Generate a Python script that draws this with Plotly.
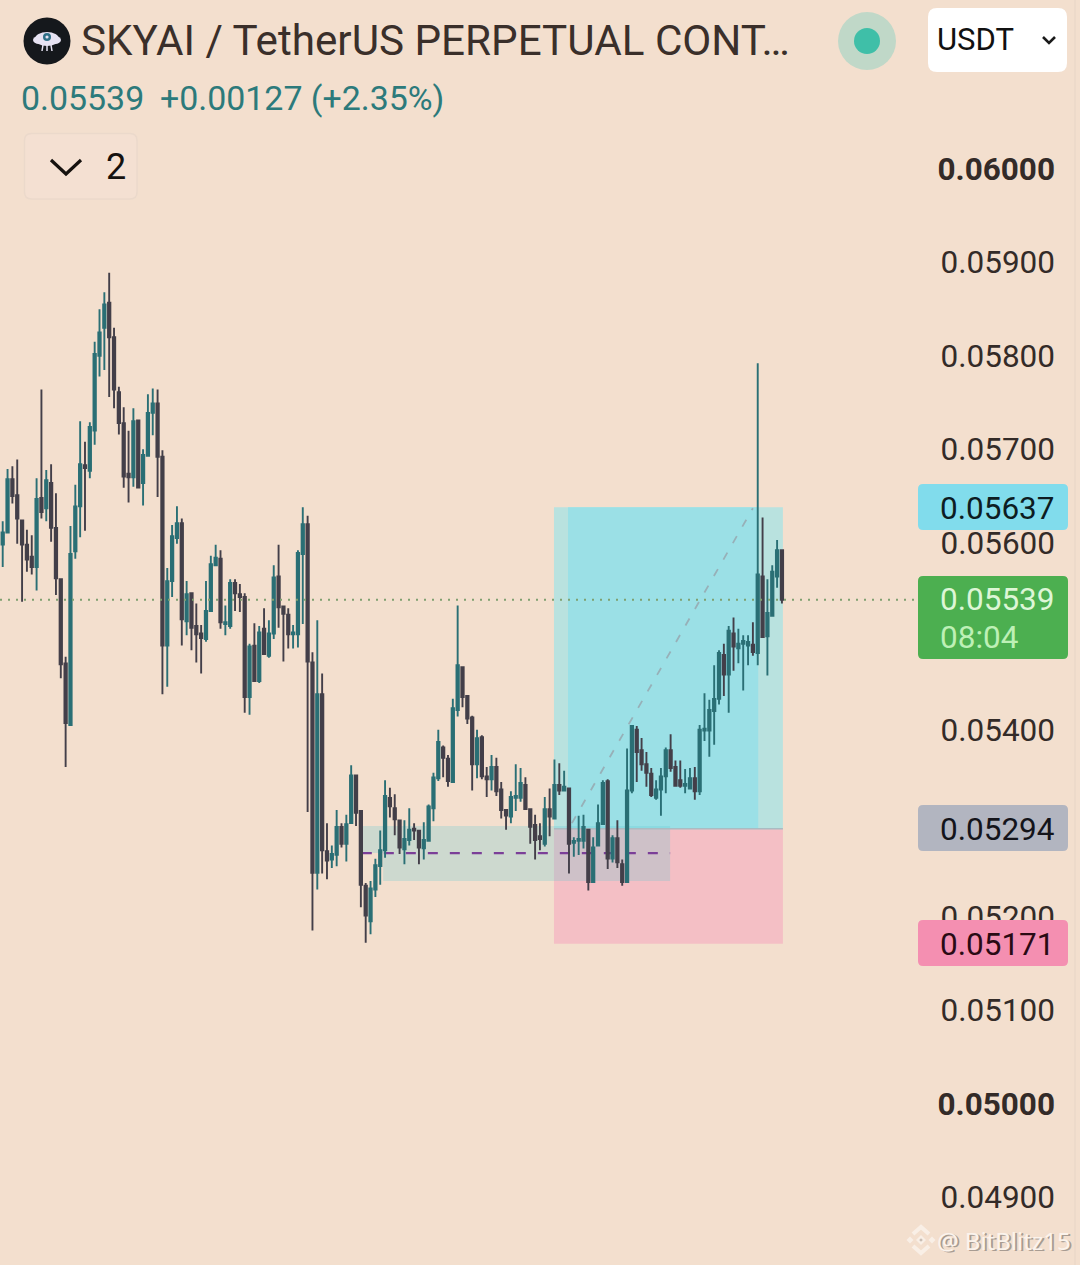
import plotly.graph_objects as go

# prices are kept in 1e-5 USDT
OPEN = [
    5598, 5611, 5668, 5651, 5624, 5598, 5585, 5574, 5648, 5637,
    5664, 5616, 5561, 5471, 5405, 5591, 5639, 5683, 5677, 5720,
    5800, 5830, 5857, 5820, 5761, 5728, 5674, 5670, 5731, 5664,
    5693, 5739, 5749, 5692, 5490, 5559, 5605, 5621, 5516, 5546,
    5511, 5503, 5497, 5527, 5576, 5583, 5513, 5511, 5557, 5545,
    5542, 5435, 5490, 5452, 5508, 5479, 5503, 5564, 5532, 5523,
    5502, 5502, 5588, 5620, 5472, 5247, 5438, 5270, 5261, 5266,
    5296, 5278, 5300, 5351, 5313, 5233, 5195, 5229, 5254, 5271,
    5327, 5316, 5303, 5272, 5282, 5294, 5292, 5273, 5281, 5316,
    5348, 5381, 5369, 5344, 5421, 5467, 5436, 5413, 5363, 5392,
    5350, 5347, 5360, 5336, 5314, 5307, 5327, 5327, 5341, 5315,
    5298, 5286, 5278, 5315, 5305, 5341, 5335, 5337, 5279, 5281,
    5281, 5293, 5237, 5276, 5299, 5345, 5262, 5284, 5256, 5237,
    5335, 5400, 5378, 5363, 5353, 5327, 5336, 5350, 5378, 5360,
    5346, 5340, 5337, 5348, 5334, 5399, 5399, 5420, 5433, 5480,
    5459, 5503, 5487, 5492, 5490, 5491, 5482, 5564, 5500, 5522,
    5564, 5592,
]
HIGH = [
    5623, 5679, 5682, 5689, 5624, 5614, 5608, 5669, 5764, 5678,
    5684, 5653, 5561, 5478, 5618, 5662, 5730, 5708, 5729, 5815,
    5850, 5868, 5889, 5830, 5767, 5745, 5720, 5744, 5732, 5700,
    5759, 5765, 5764, 5699, 5573, 5619, 5639, 5626, 5559, 5547,
    5535, 5512, 5559, 5586, 5598, 5592, 5533, 5561, 5561, 5556,
    5546, 5492, 5514, 5511, 5530, 5517, 5576, 5598, 5533, 5530,
    5512, 5592, 5638, 5629, 5483, 5517, 5460, 5300, 5276, 5314,
    5300, 5309, 5362, 5352, 5314, 5236, 5238, 5262, 5292, 5346,
    5338, 5331, 5303, 5303, 5316, 5300, 5293, 5301, 5320, 5354,
    5400, 5383, 5373, 5433, 5533, 5468, 5437, 5415, 5400, 5394,
    5360, 5373, 5370, 5344, 5314, 5334, 5363, 5359, 5349, 5315,
    5309, 5300, 5328, 5337, 5368, 5364, 5356, 5338, 5285, 5308,
    5309, 5293, 5285, 5320, 5346, 5347, 5287, 5303, 5261, 5380,
    5405, 5404, 5391, 5376, 5359, 5346, 5359, 5381, 5395, 5367,
    5367, 5358, 5359, 5360, 5405, 5439, 5432, 5469, 5485, 5492,
    5511, 5520, 5508, 5501, 5501, 5515, 5792, 5627, 5561, 5576,
    5603, 5593,
]
LOW = [
    5574, 5611, 5642, 5599, 5537, 5569, 5566, 5549, 5626, 5623,
    5601, 5544, 5455, 5360, 5405, 5583, 5606, 5613, 5669, 5705,
    5778, 5785, 5756, 5744, 5716, 5659, 5643, 5660, 5658, 5640,
    5693, 5715, 5649, 5438, 5446, 5542, 5599, 5490, 5501, 5485,
    5472, 5460, 5494, 5526, 5575, 5508, 5501, 5508, 5527, 5526,
    5418, 5416, 5452, 5450, 5480, 5477, 5497, 5509, 5473, 5487,
    5487, 5488, 5513, 5312, 5185, 5229, 5246, 5240, 5252, 5254,
    5274, 5259, 5300, 5297, 5210, 5172, 5181, 5221, 5234, 5263,
    5306, 5287, 5267, 5256, 5276, 5282, 5256, 5261, 5281, 5302,
    5345, 5349, 5339, 5344, 5414, 5424, 5406, 5335, 5348, 5347,
    5328, 5335, 5329, 5305, 5293, 5300, 5313, 5323, 5314, 5278,
    5261, 5271, 5275, 5286, 5304, 5330, 5335, 5246, 5264, 5266,
    5273, 5228, 5236, 5275, 5298, 5251, 5258, 5252, 5233, 5236,
    5332, 5344, 5356, 5339, 5328, 5325, 5308, 5332, 5355, 5340,
    5338, 5332, 5337, 5325, 5330, 5388, 5371, 5384, 5427, 5436,
    5418, 5463, 5471, 5442, 5469, 5479, 5469, 5499, 5458, 5521,
    5552, 5535,
]
CLOSE = [
    5611, 5668, 5650, 5626, 5598, 5582, 5574, 5647, 5633, 5667,
    5616, 5562, 5470, 5407, 5588, 5639, 5684, 5680, 5724, 5802,
    5825, 5855, 5820, 5764, 5728, 5671, 5670, 5730, 5659, 5694,
    5739, 5749, 5692, 5490, 5559, 5607, 5621, 5518, 5545, 5509,
    5502, 5498, 5527, 5577, 5584, 5515, 5515, 5557, 5546, 5542,
    5435, 5489, 5452, 5504, 5481, 5503, 5563, 5531, 5524, 5502,
    5504, 5589, 5620, 5473, 5247, 5438, 5271, 5260, 5267, 5296,
    5278, 5299, 5351, 5311, 5234, 5201, 5230, 5255, 5271, 5329,
    5318, 5304, 5274, 5283, 5293, 5292, 5274, 5282, 5318, 5349,
    5387, 5370, 5345, 5423, 5469, 5435, 5412, 5363, 5391, 5350,
    5347, 5360, 5334, 5314, 5308, 5328, 5329, 5343, 5315, 5296,
    5282, 5283, 5315, 5307, 5341, 5335, 5339, 5278, 5281, 5283,
    5296, 5237, 5274, 5300, 5343, 5262, 5284, 5258, 5237, 5335,
    5404, 5376, 5363, 5354, 5330, 5336, 5350, 5378, 5359, 5340,
    5340, 5342, 5348, 5334, 5400, 5401, 5421, 5433, 5482, 5459,
    5506, 5489, 5492, 5495, 5494, 5483, 5566, 5499, 5525, 5569,
    5592, 5539,
]

TICK_PRICES = [6000, 5900, 5800, 5700, 5600, 5400, 5200, 5100, 5000, 4900]
BOLD_TICKS = [6000, 5000]

LAST_PRICE = 5539
TARGET = 5637
ENTRY = 5294
STOP = 5171
ZONE_TOP = 5297
ZONE_MID = 5268
ZONE_BOTTOM = 5238

W = 1080
H = 1265
BG = "#F3DFCE"
TEAL = "#2A6F75"
DARK = "#433F49"


def scaled(values):
    return [v / 100000 for v in values]


def px(x):
    return x / W


def py(y):
    return 1 - y / H


def rounded(x0, y0, x1, y1, r):
    return (
        f"M{px(x0 + r)},{py(y0)} L{px(x1 - r)},{py(y0)} Q{px(x1)},{py(y0)} {px(x1)},{py(y0 + r)} "
        f"L{px(x1)},{py(y1 - r)} Q{px(x1)},{py(y1)} {px(x1 - r)},{py(y1)} "
        f"L{px(x0 + r)},{py(y1)} Q{px(x0)},{py(y1)} {px(x0)},{py(y1 - r)} "
        f"L{px(x0)},{py(y0 + r)} Q{px(x0)},{py(y0)} {px(x0 + r)},{py(y0)} Z"
    )


def box(x0, y0, x1, y1, fill, r=5, line=None):
    return dict(type="path", path=rounded(x0, y0, x1, y1, r), xref="paper", yref="paper",
                fillcolor=fill, line=dict(color=line or fill, width=1.5 if line else 0), layer="above")


def circle(cx, cy, rx, ry, fill):
    return dict(type="circle", xref="paper", yref="paper", x0=px(cx - rx), x1=px(cx + rx),
                y0=py(cy + ry), y1=py(cy - ry), fillcolor=fill, line=dict(width=0), layer="above")


def poly(points, color, width=None):
    d = "M" + " L".join(f"{px(x)},{py(y)}" for x, y in points)
    if width:
        return dict(type="path", path=d, xref="paper", yref="paper",
                    line=dict(color=color, width=width), layer="above")
    return dict(type="path", path=d + " Z", xref="paper", yref="paper",
                fillcolor=color, line=dict(width=0), layer="above")


def price_rect(i0, i1, p0, p1, fill):
    return dict(type="rect", xref="x", yref="y", x0=i0, x1=i1, y0=p0 / 100000, y1=p1 / 100000,
                fillcolor=fill, line=dict(width=0), layer="below")


def label(x, y, text, size, color, anchor="left", family="Roboto"):
    return dict(xref="paper", yref="paper", x=px(x), y=py(y), text=text, showarrow=False,
                xanchor=anchor, yanchor="middle", font=dict(family=family, size=size, color=color))


def diamond(cx, cy, r, color):
    return poly([(cx, cy - r), (cx + r, cy), (cx, cy + r), (cx - r, cy)], color)


fig = go.Figure(go.Candlestick(
    x=list(range(len(OPEN))),
    open=scaled(OPEN),
    high=scaled(HIGH),
    low=scaled(LOW),
    close=scaled(CLOSE),
    increasing=dict(line=dict(color=TEAL, width=1.9), fillcolor=TEAL),
    decreasing=dict(line=dict(color=DARK, width=1.9), fillcolor=DARK),
    whiskerwidth=0,
    showlegend=False,
))

ICON = "#F9EFE6"

shapes = [
    # long position tool
    price_rect(113.9, 161.2, ENTRY, TARGET + 1, "#B9E2DF"),
    price_rect(116.8, 156.1, ENTRY, TARGET + 1, "#9BE0E6"),
    price_rect(113.9, 161.2, STOP, ENTRY, "#F4BFC5"),
    # grey-green zone
    price_rect(74.2, 137.9, ZONE_MID, ZONE_TOP, "rgba(92,200,210,0.25)"),
    price_rect(78.6, 137.9, ZONE_BOTTOM, ZONE_MID, "rgba(92,200,210,0.25)"),
    dict(type="line", xref="x", yref="y", x0=113.9, x1=161.2, y0=ENTRY / 100000, y1=ENTRY / 100000,
         line=dict(color="#A9BCC2", width=1.5), layer="below"),
    dict(type="line", xref="x", yref="y", x0=74.2, x1=137.9, y0=ZONE_MID / 100000, y1=ZONE_MID / 100000,
         line=dict(color="#7B3F98", width=2.2, dash="10px,12px"), layer="below"),
    dict(type="line", xref="x", yref="y", x0=117.6, x1=155, y0=5300 / 100000, y1=5637 / 100000,
         line=dict(color="rgba(150,160,168,0.75)", width=1.8, dash="8px,11px"), layer="below"),
    # last price line
    dict(type="line", xref="paper", yref="y", x0=0, x1=px(915), y0=LAST_PRICE / 100000, y1=LAST_PRICE / 100000,
         line=dict(color="#7FA070", width=2, dash="2px,6px"), layer="above"),
    # price labels
    box(918, 484, 1068, 530, "#81DCEC"),
    box(918, 576, 1068, 659, "#4CAF50"),
    box(918, 805, 1068, 851, "#B2B5C0"),
    box(918, 920, 1068, 966, "#F48FB1"),
    # header
    circle(47, 41, 23.5, 23.5, "#15181C"),
    circle(47, 39, 12, 7, "#E6E2F2"),
    circle(39, 40, 6, 4, "#E6E2F2"),
    circle(55, 40, 6, 4, "#E6E2F2"),
    circle(47, 37, 4, 4, "#2D6F86"),
    circle(47, 37, 1.6, 1.6, "#E6E2F2"),
    poly([(43, 45), (42, 51)], "#E6E2F2", 1.5),
    poly([(47, 45), (47, 51)], "#E6E2F2", 1.5),
    poly([(51, 45), (52, 51)], "#E6E2F2", 1.5),
    circle(867, 41, 29, 29, "#C0D8C8"),
    circle(867, 41, 13, 13, "#3FBFA8"),
    box(928, 8, 1067, 72, "#FFFFFF", r=9),
    poly([(1043, 37), (1049, 43), (1055, 37)], "#1A1A1A", 2.6),
    box(24.5, 133.5, 137, 199, "#F4E0D2", r=7, line="#EBD9CB"),
    poly([(51, 160), (66, 174), (81, 160)], "#16120F", 3.2),
    # right edge of the screenshot
    dict(type="line", xref="paper", yref="paper", x0=px(1075), x1=px(1075), y0=0, y1=1,
         line=dict(color="#E7D5C6", width=1), layer="above"),
    # watermark icon
    poly([(913, 1234), (921, 1227), (929, 1234)], ICON, 4),
    poly([(913, 1246), (921, 1253), (929, 1246)], ICON, 4),
    diamond(910, 1240, 3.5, ICON),
    diamond(932, 1240, 3.5, ICON),
    diamond(921, 1240, 5, ICON),
    diamond(921, 1240, 1.8, "#C9BDB2"),
]

annotations = [
    label(79, 40, "SKYAI / TetherUS PERPETUAL CONT…", 42.2, "#3A2F2A"),
    label(19, 99, "0.05539", 33.9, "#2C7A7B"),
    label(158, 99, "+0.00127 (+2.35%)", 33.9, "#2C7A7B"),
    label(104, 167, "2", 36, "#16120F"),
    label(935, 39, "USDT", 31, "#111111"),
    label(1057, 508, "0.05637", 31.5, "#0D1C22", "right"),
    label(1057, 600, "0.05539", 31.5, "#DDF6D6", "right"),
    label(938, 637, "08:04", 31.5, "#BDF0B6"),
    label(1057, 829, "0.05294", 31.5, "#14141A", "right"),
    label(1057, 944, "0.05171", 31.5, "#2A0A14", "right"),
    label(1074.5, 1241, "@ BitBlitz15", 24, "#A89C92", "right", "Noto Sans"),
    label(1073, 1240, "@ BitBlitz15", 24, "#FBF3EC", "right", "Noto Sans"),
]

tick_text = []
for t in TICK_PRICES:
    s = f"{t / 100000:.5f}"
    tick_text.append(f"<b>{s}</b>" if t in BOLD_TICKS else s)

fig.update_layout(
    width=W,
    height=H,
    margin=dict(l=0, r=0, t=0, b=0),
    paper_bgcolor=BG,
    plot_bgcolor=BG,
    showlegend=False,
    shapes=shapes,
    annotations=annotations,
    hovermode=False,
    xaxis=dict(
        domain=[0, 1058 / W],
        range=[-0.56, 218.04],
        visible=False,
        rangeslider=dict(visible=False),
    ),
    yaxis=dict(
        domain=[0, 1],
        range=[0.048272, 0.061808],
        side="right",
        anchor="x",
        showgrid=False,
        zeroline=False,
        showline=False,
        ticks="",
        tickmode="array",
        tickvals=scaled(TICK_PRICES),
        ticktext=tick_text,
        ticklabelposition="inside",
        tickfont=dict(family="Roboto", size=31.5, color="#332B28"),
    ),
)

fig.write_html("out.html", config=dict(displayModeBar=False),
               post_script="document.body.style.margin='0';")
